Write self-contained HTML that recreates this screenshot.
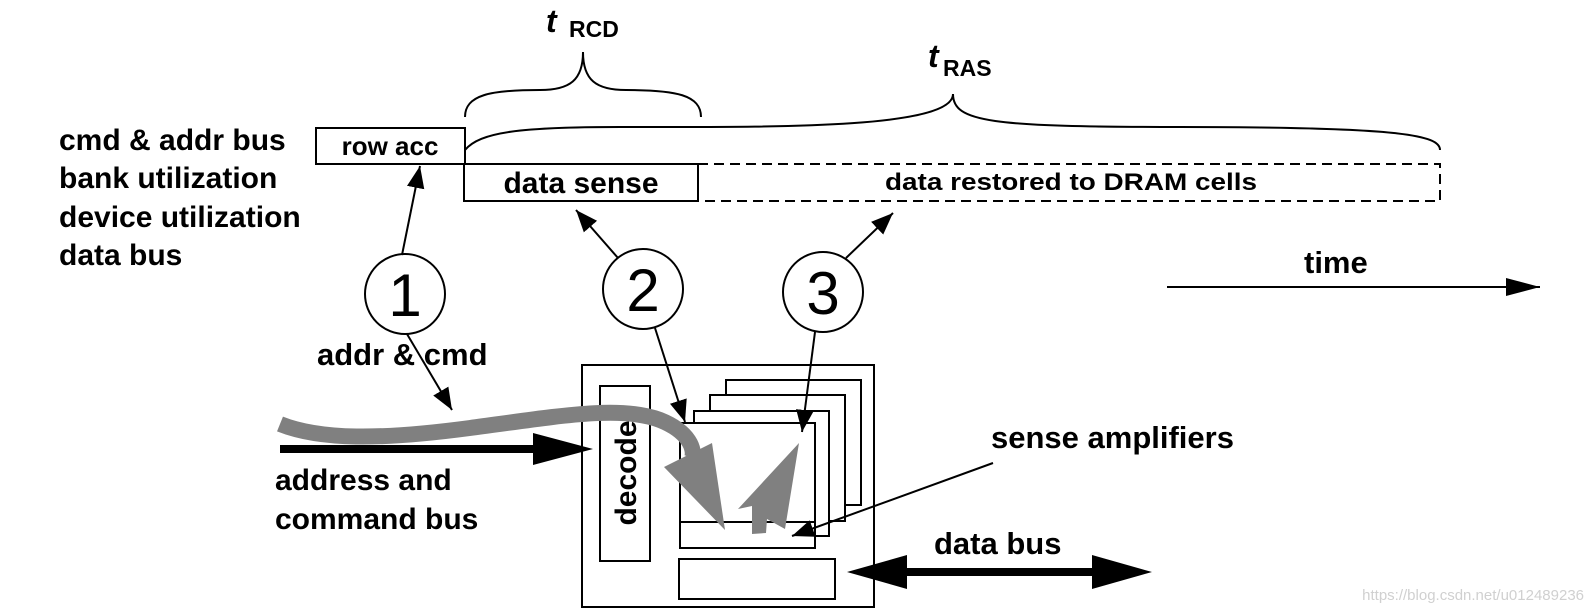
<!DOCTYPE html>
<html><head><meta charset="utf-8"><style>
html,body{margin:0;padding:0;background:#fff;}
svg{display:block;}
text{font-family:"Liberation Sans",Arial,sans-serif;font-weight:bold;fill:#000;}
</style></head><body>
<svg width="1592" height="615" viewBox="0 0 1592 615" xmlns="http://www.w3.org/2000/svg">
<defs>
<marker id="ah" viewBox="0 0 20 16" refX="20" refY="8" markerWidth="22" markerHeight="18" markerUnits="userSpaceOnUse" orient="auto"><path d="M0,0 L20,8 L0,16 Z" fill="#000"/></marker>
<marker id="ah2" viewBox="0 0 34 18" refX="34" refY="9" markerWidth="34" markerHeight="18" markerUnits="userSpaceOnUse" orient="auto"><path d="M0,0 L34,9 L0,18 Z" fill="#000"/></marker>
</defs>
<text x="59" y="150" font-size="30">cmd &amp; addr bus</text>
<text x="59" y="188" font-size="30">bank utilization</text>
<text x="59" y="227" font-size="30">device utilization</text>
<text x="59" y="265" font-size="30">data bus</text>

<rect x="316" y="128" width="149" height="36" fill="none" stroke="#000" stroke-width="2"/>
<text x="390" y="155" font-size="26" text-anchor="middle">row acc</text>
<rect x="464" y="164" width="234" height="37" fill="none" stroke="#000" stroke-width="2"/>
<text x="581" y="193" font-size="30" text-anchor="middle">data sense</text>
<path d="M698,164 H1440 V201 H698" fill="none" stroke="#000" stroke-width="2" stroke-dasharray="10,6"/>
<text x="1071" y="190" font-size="24" text-anchor="middle" textLength="372" lengthAdjust="spacingAndGlyphs">data restored to DRAM cells</text>

<path d="M465,117 C465,95 490,90 540,90 C570,90 583,80 583,52 C583,80 596,90 626,90 C676,90 701,95 701,117" fill="none" stroke="#000" stroke-width="2"/>
<path d="M465,150 C480,132 520,127 620,127 C760,127 953,130 953,94 C953,122 990,127 1180,127 C1400,127 1440,135 1440,150" fill="none" stroke="#000" stroke-width="2"/>
<text x="546" y="32" font-size="32" font-style="italic">t</text>
<text x="569" y="37" font-size="23">RCD</text>
<text x="928" y="67" font-size="32" font-style="italic">t</text>
<text x="943" y="76" font-size="23">RAS</text>

<line x1="1167" y1="287" x2="1540" y2="287" stroke="#000" stroke-width="2" marker-end="url(#ah2)"/>
<text x="1304" y="273" font-size="31">time</text>

<circle cx="405" cy="294" r="40" fill="#fff" stroke="#000" stroke-width="2"/>
<text x="405" y="316" font-size="60" text-anchor="middle" style="font-weight:normal">1</text>
<circle cx="643" cy="289" r="40" fill="#fff" stroke="#000" stroke-width="2"/>
<text x="643" y="311" font-size="60" text-anchor="middle" style="font-weight:normal">2</text>
<circle cx="823" cy="292" r="40" fill="#fff" stroke="#000" stroke-width="2"/>
<text x="823" y="314" font-size="60" text-anchor="middle" style="font-weight:normal">3</text>

<line x1="402" y1="255" x2="420" y2="166" stroke="#000" stroke-width="2" marker-end="url(#ah)"/>
<line x1="407" y1="334" x2="452" y2="410" stroke="#000" stroke-width="2" marker-end="url(#ah)"/>
<line x1="618" y1="258" x2="576" y2="210" stroke="#000" stroke-width="2" marker-end="url(#ah)"/>
<line x1="846" y1="258" x2="893" y2="213" stroke="#000" stroke-width="2" marker-end="url(#ah)"/>
<text x="317" y="365" font-size="31">addr &amp; cmd</text>

<rect x="582" y="365" width="292" height="242" fill="#fff" stroke="#000" stroke-width="2"/>
<rect x="600" y="386" width="50" height="175" fill="#fff" stroke="#000" stroke-width="2"/>
<text transform="translate(636,473) rotate(-90)" font-size="30" text-anchor="middle">decode</text>
<rect x="726" y="380" width="135" height="125" fill="#fff" stroke="#000" stroke-width="2"/>
<rect x="710" y="395" width="135" height="126" fill="#fff" stroke="#000" stroke-width="2"/>
<rect x="694" y="411" width="135" height="125" fill="#fff" stroke="#000" stroke-width="2"/>
<rect x="680" y="423" width="135" height="125" fill="#fff" stroke="#000" stroke-width="2"/>
<line x1="680" y1="522" x2="815" y2="522" stroke="#000" stroke-width="2"/>
<rect x="679" y="559" width="156" height="40" fill="#fff" stroke="#000" stroke-width="2"/>

<line x1="655" y1="328" x2="685" y2="422" stroke="#000" stroke-width="2" marker-end="url(#ah)"/>
<line x1="815" y1="332" x2="802" y2="432" stroke="#000" stroke-width="2" marker-end="url(#ah)"/>

<line x1="280" y1="449" x2="560" y2="449" stroke="#000" stroke-width="8"/>
<path d="M533,433 L593,449 L533,465 Z" fill="#000"/>
<text x="275" y="490" font-size="30">address and</text>
<text x="275" y="529" font-size="30">command bus</text>

<path d="M280,424 C320,440 380,440 470,428 C560,416 620,405 660,420 C690,432 695,450 692,458" fill="none" stroke="#808080" stroke-width="16"/>
<path d="M664,467 L712,443 L725,530 Z" fill="#808080"/>
<path d="M799,443 L738,509 L752,506 L752,534 L766,533 L767,519 L785,529 Z" fill="#808080"/>

<text x="991" y="448" font-size="31">sense amplifiers</text>
<line x1="993" y1="463" x2="792" y2="536" stroke="#000" stroke-width="2" marker-end="url(#ah)"/>

<line x1="870" y1="572" x2="1130" y2="572" stroke="#000" stroke-width="8"/>
<path d="M847,572 L907,555 L907,589 Z" fill="#000"/>
<path d="M1152,572 L1092,555 L1092,589 Z" fill="#000"/>
<text x="934" y="554" font-size="31">data bus</text>

<text x="1584" y="600" font-size="15" text-anchor="end" style="font-weight:normal;fill:#d0d0d0">https://blog.csdn.net/u012489236</text>
</svg>
</body></html>
